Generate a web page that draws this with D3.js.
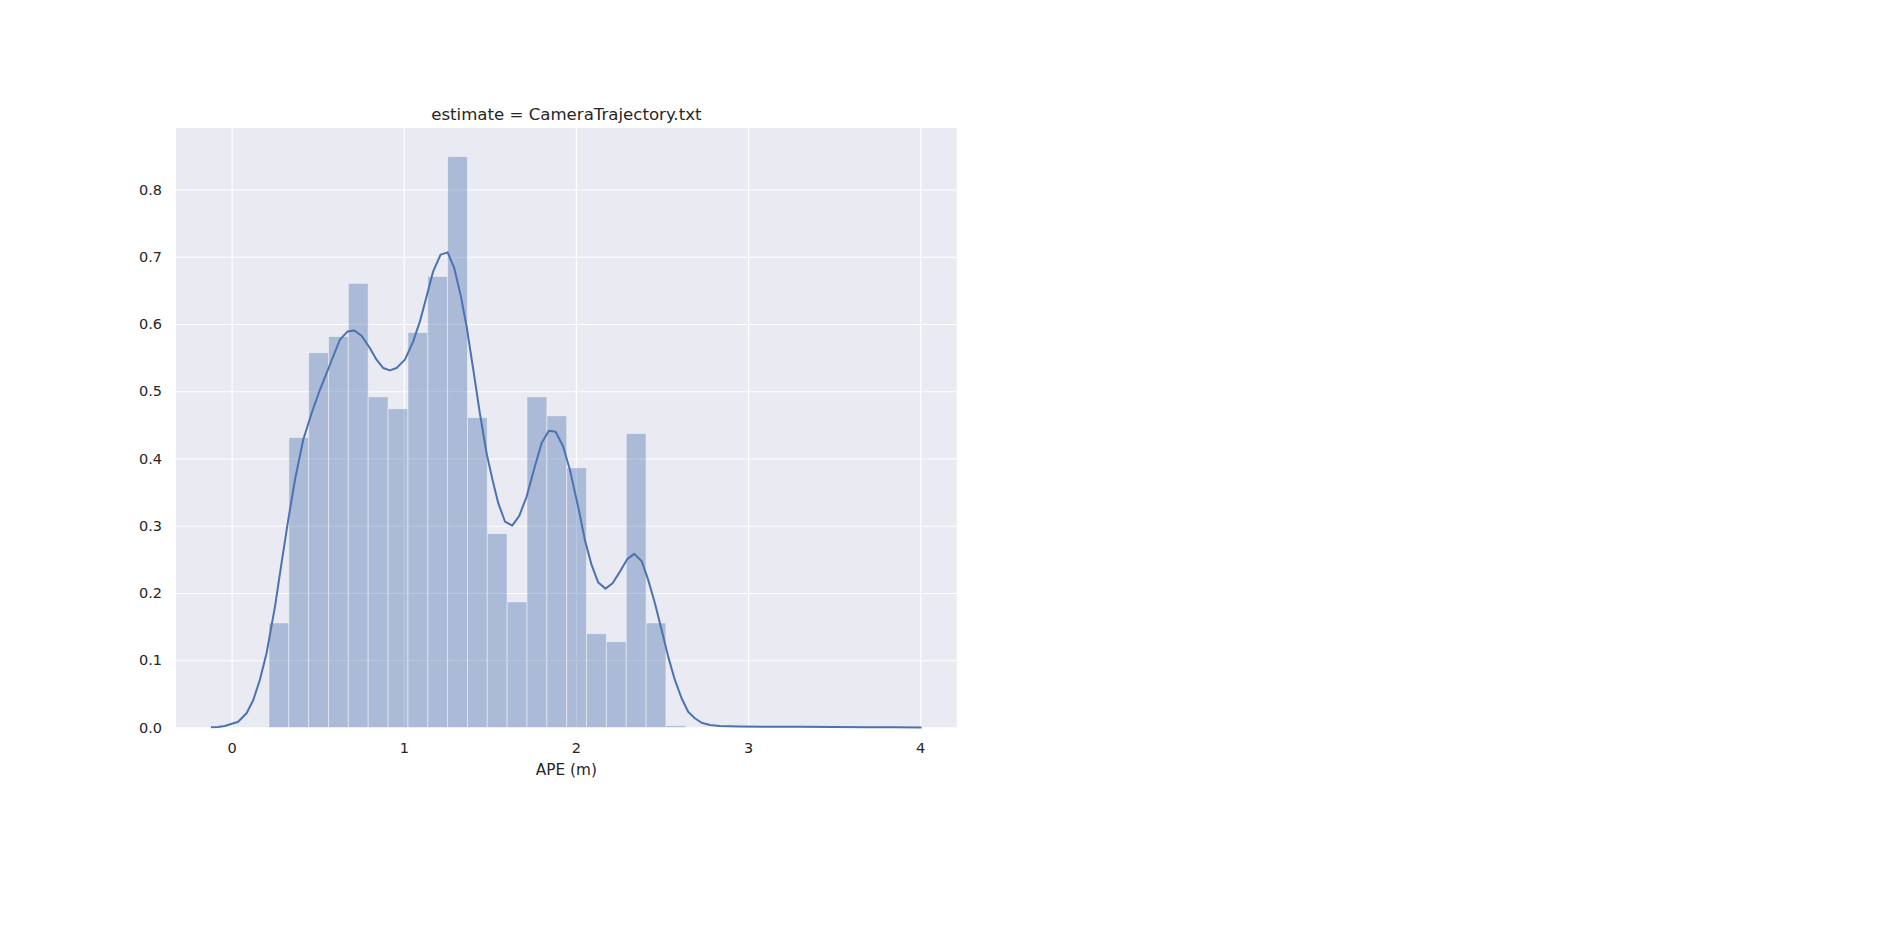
<!DOCTYPE html>
<html>
<head>
<meta charset="utf-8">
<script src="https://cdn.jsdelivr.net/npm/d3@7"></script>
<style>
  body { margin: 0; background: #fff; }
  text { font-family: "DejaVu Sans", sans-serif; fill: #262626; }
</style>
</head>
<body>
<script>
// histogram (density)
const binStart = 0.217;
const binWidth = 0.1153;
const binHeights = [0.1555, 0.4313, 0.5573, 0.5815, 0.6604, 0.4918, 0.474, 0.5875, 0.6708, 0.849,
  0.461, 0.2884, 0.1868, 0.4918, 0.4635, 0.3862, 0.1396, 0.1277, 0.4372, 0.1555, 0.0027];

// kde curve points
const kdeX = [-0.12, -0.08, -0.039, 0.038, 0.087, 0.126, 0.164, 0.203, 0.252, 0.29, 0.329, 0.368, 0.416,
  0.465, 0.513, 0.571, 0.629, 0.674, 0.712, 0.755, 0.803, 0.842, 0.881, 0.92, 0.958, 1.007, 1.055,
  1.094, 1.133, 1.171, 1.214, 1.255, 1.293, 1.332, 1.365, 1.404, 1.442, 1.481, 1.52, 1.549, 1.588,
  1.63, 1.671, 1.714, 1.756, 1.801, 1.843, 1.882, 1.926, 1.965, 2.004, 2.023, 2.052, 2.091, 2.13,
  2.172, 2.213, 2.256, 2.298, 2.339, 2.382, 2.42, 2.459, 2.498, 2.536, 2.575, 2.614, 2.652, 2.691,
  2.73, 2.778, 2.836, 2.95, 3.1, 3.3, 3.5, 3.7, 3.85, 4.008];
const kdeY = [0.0002, 0.0008, 0.0022, 0.0086, 0.0211, 0.0409, 0.0707, 0.1104, 0.1798, 0.2443, 0.3088,
  0.3683, 0.4278, 0.4676, 0.5022, 0.5394, 0.5766, 0.589, 0.5905, 0.5826, 0.5643, 0.5469, 0.5345,
  0.531, 0.5345, 0.547, 0.5741, 0.6039, 0.6411, 0.6783, 0.7031, 0.7065, 0.6833, 0.6411, 0.5964,
  0.532, 0.4676, 0.408, 0.3634, 0.3336, 0.3063, 0.3003, 0.3147, 0.3435, 0.3832, 0.4229, 0.4412,
  0.4397, 0.4179, 0.3832, 0.3385, 0.3162, 0.279, 0.2418, 0.2155, 0.2065, 0.2146, 0.2318, 0.2503,
  0.2582, 0.2473, 0.2195, 0.1848, 0.1451, 0.1054, 0.0707, 0.0435, 0.0235, 0.0137, 0.0071, 0.0037,
  0.0022, 0.0015, 0.0012, 0.001, 0.0008, 0.0005, 0.0003, 0.0001];

const xTicks = [0, 1, 2, 3, 4];
const yTicks = [0, 0.1, 0.2, 0.3, 0.4, 0.5, 0.6, 0.7, 0.8];
const titleText = 'estimate = CameraTrajectory.txt';
const xLabel = 'APE (m)';

const W = 1898, H = 949;
const plotL = 176, plotR = 956.7, plotT = 128, plotB = 727.5;
const blue = '#4C72B0';

const svg = d3.select('body').append('svg').attr('width', W).attr('height', H);

const x = d3.scaleLinear().domain([-0.323, 4.212]).range([plotL, plotR]);
const y = d3.scaleLinear().domain([0, d3.max(binHeights) * 1.05]).range([plotB, plotT]);

svg.append('rect')
  .attr('x', plotL).attr('y', plotT)
  .attr('width', plotR - plotL).attr('height', plotB - plotT)
  .attr('fill', '#EAEAF2');

// grid
const xAxis = d3.axisBottom(x).tickValues(xTicks).tickFormat(d3.format('d')).tickSize(-(plotB - plotT)).tickPadding(15);
const yAxis = d3.axisLeft(y).tickValues(yTicks).tickFormat(d3.format('.1f')).tickSize(-(plotR - plotL)).tickPadding(14);

const gx = svg.append('g').attr('transform', `translate(0,${plotB})`).call(xAxis);
const gy = svg.append('g').attr('transform', `translate(${plotL},0)`).call(yAxis);
[gx, gy].forEach(g => {
  g.select('.domain').remove();
  g.selectAll('line').attr('stroke', '#fff').attr('stroke-width', 1.2);
  g.selectAll('text').attr('font-size', 14.5).attr('fill', '#262626');
});
gx.selectAll('text').attr('dy', '0.71em');

// bars
svg.append('g').selectAll('rect')
  .data(binHeights).enter().append('rect')
  .attr('x', (d, i) => x(binStart + i * binWidth))
  .attr('width', (d, i) => x(binStart + (i + 1) * binWidth) - x(binStart + i * binWidth))
  .attr('y', d => y(d))
  .attr('height', d => y(0) - y(d))
  .attr('fill', blue).attr('fill-opacity', 0.4)
  .attr('stroke', '#fff').attr('stroke-opacity', 0.45).attr('stroke-width', 1);

// kde
const line = d3.line().x(d => x(d[0])).y(d => y(d[1]));
svg.append('path')
  .datum(d3.zip(kdeX, kdeY))
  .attr('d', line)
  .attr('fill', 'none')
  .attr('stroke', blue)
  .attr('stroke-width', 2)
  .attr('stroke-linejoin', 'round');

svg.append('text')
  .attr('x', (plotL + plotR) / 2).attr('y', 120)
  .attr('text-anchor', 'middle').attr('font-size', 16.6)
  .text(titleText);

svg.append('text')
  .attr('x', (plotL + plotR) / 2).attr('y', 774.5)
  .attr('text-anchor', 'middle').attr('font-size', 15.3)
  .text(xLabel);
</script>
</body>
</html>
